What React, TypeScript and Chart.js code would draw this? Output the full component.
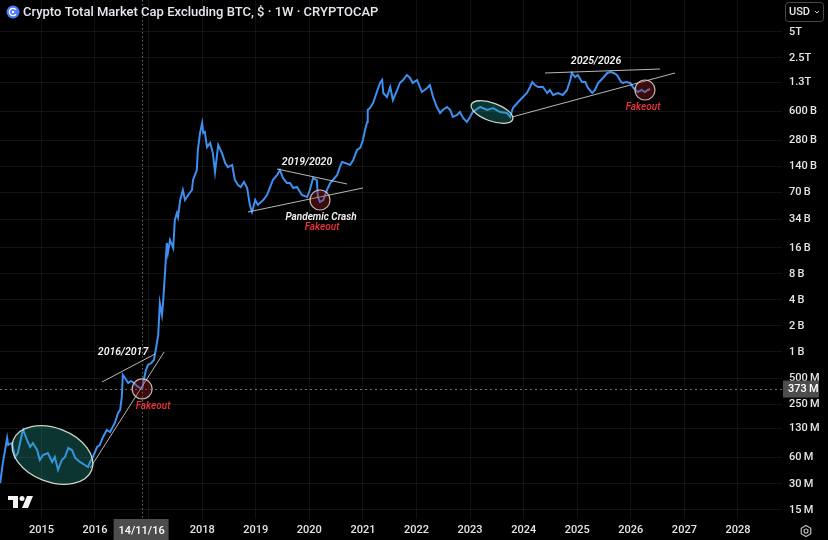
import React, { useEffect, useRef } from 'react';
import { Chart, registerables } from 'chart.js';

Chart.register(...registerables);

// ---- data (decimal year, market cap in billions USD) ----
const weekDates = [
  2014.23, 2014.28, 2014.36, 2014.38, 2014.45, 2014.51, 2014.56, 2014.64, 2014.66, 2014.73,
  2014.79, 2014.84, 2014.92, 2014.97, 2015.03, 2015.12, 2015.2, 2015.25, 2015.31, 2015.38,
  2015.44, 2015.5, 2015.57, 2015.63, 2015.72, 2015.81, 2015.87, 2015.91, 2015.96, 2016.04,
  2016.09, 2016.15, 2016.22, 2016.28, 2016.37, 2016.43, 2016.47, 2016.5, 2016.52, 2016.56,
  2016.62, 2016.67, 2016.73, 2016.78, 2016.84, 2016.88, 2016.91, 2016.95, 2016.99, 2017.05,
  2017.1, 2017.14, 2017.18, 2017.21, 2017.25, 2017.27, 2017.31, 2017.34, 2017.36, 2017.4,
  2017.46, 2017.49, 2017.53, 2017.55, 2017.59, 2017.64, 2017.68, 2017.74, 2017.81, 2017.83,
  2017.9, 2017.92, 2017.96, 2018.0, 2018.02, 2018.05, 2018.09, 2018.15, 2018.2, 2018.24,
  2018.3, 2018.37, 2018.43, 2018.48, 2018.56, 2018.61, 2018.67, 2018.72, 2018.78, 2018.84,
  2018.89, 2018.93, 2018.99, 2019.04, 2019.14, 2019.21, 2019.27, 2019.32, 2019.4, 2019.45,
  2019.51, 2019.58, 2019.64, 2019.7, 2019.77, 2019.86, 2019.96, 2020.01, 2020.07, 2020.14,
  2020.16, 2020.2, 2020.26, 2020.33, 2020.39, 2020.44, 2020.52, 2020.57, 2020.61, 2020.67,
  2020.76, 2020.82, 2020.89, 2020.95, 2021.0, 2021.04, 2021.08, 2021.09, 2021.13, 2021.19,
  2021.26, 2021.32, 2021.36, 2021.38, 2021.45, 2021.51, 2021.56, 2021.64, 2021.69, 2021.75,
  2021.82, 2021.88, 2021.93, 2022.01, 2022.1, 2022.2, 2022.25, 2022.31, 2022.38, 2022.44,
  2022.49, 2022.57, 2022.63, 2022.68, 2022.76, 2022.81, 2022.87, 2022.94, 2023.0, 2023.05,
  2023.19, 2023.32, 2023.43, 2023.56, 2023.69, 2023.75, 2023.8, 2023.88, 2023.97, 2024.06,
  2024.12, 2024.16, 2024.21, 2024.27, 2024.36, 2024.44, 2024.49, 2024.55, 2024.64, 2024.73,
  2024.81, 2024.87, 2024.9, 2024.96, 2025.01, 2025.09, 2025.15, 2025.2, 2025.28, 2025.33,
  2025.39, 2025.48, 2025.56, 2025.62, 2025.68, 2025.74, 2025.82, 2025.85, 2025.91, 2025.99,
  2026.05, 2026.13, 2026.2, 2026.26, 2026.32, 2026.36,
];

const capBillions = [
  0.0306, 0.0521, 0.1015, 0.0842, 0.0888, 0.0612, 0.068, 0.1159, 0.1255, 0.0962,
  0.0798, 0.0888, 0.0737, 0.0565, 0.0645, 0.068, 0.0536, 0.0612, 0.0433, 0.0565,
  0.0612, 0.0777, 0.0737, 0.0596, 0.0536, 0.0494, 0.0469, 0.0536, 0.0612, 0.0798,
  0.0842, 0.1042, 0.1255, 0.119, 0.151, 0.197, 0.214, 0.302, 0.542, 0.501,
  0.438, 0.462, 0.438, 0.405, 0.384, 0.373, 0.475, 0.619, 0.708, 0.746,
  0.808, 1.112, 1.572, 3.68, 2.68, 3.68, 8.86, 18.2, 13.9, 19.7,
  15.9, 33.5, 40.4, 36.3, 57.1, 74.5, 57.1, 65.2, 74.5, 97.2,
  126.8, 216, 339, 443, 339, 349, 234, 260, 199, 120,
  247, 199, 153, 137, 145, 97.2, 85.1, 80.7, 92.2, 78.6,
  50.0, 41.5, 57.1, 50.0, 57.1, 65.2, 80.7, 97.2, 111, 126.8,
  102.5, 89.8, 89.8, 78.6, 80.7, 65.2, 61.8, 74.5, 102.5, 97.2,
  61.8, 54.1, 57.1, 74.5, 89.8, 97.2, 111, 137, 157, 153,
  145, 165.5, 216, 228, 282, 368, 455, 626, 660, 754,
  1010, 1285, 1391, 984, 885, 1154, 816, 1066, 1285, 1391,
  1590, 1468, 1285, 1391, 1010, 1124, 1218, 885, 678, 578,
  626, 678, 626, 520, 548, 593, 506, 455, 520, 593,
  678, 626, 660, 593, 578, 520, 660, 754, 862, 984,
  1154, 1319, 1218, 1154, 1154, 984, 1066, 933, 984, 933,
  1066, 1391, 1676, 1506, 1590, 1319, 1319, 1124, 984, 1066,
  1285, 1468, 1676, 1721, 1676, 1590, 1319, 1285, 1319, 1285,
  1124, 1010, 1066, 1010, 1066, 1094,
];

// ---- axes ----
const yTickValues = [0.015, 0.03, 0.06, 0.13, 0.25, 0.5, 1, 2, 4, 8, 16, 34, 70, 140, 280, 600, 1300, 2500, 5000];
const yTickLabels = [
  '15\u2009M', '30\u2009M', '60\u2009M', '130\u2009M', '250\u2009M', '500\u2009M',
  '1\u2009B', '2\u2009B', '4\u2009B', '8\u2009B', '16\u2009B', '34\u2009B', '70\u2009B',
  '140\u2009B', '280\u2009B', '600\u2009B', '1.3T', '2.5T', '5T',
];
const xTickYears = [2015, 2016, 2017, 2018, 2019, 2020, 2021, 2022, 2023, 2024, 2025, 2026, 2027, 2028];
const X_MIN = 2014.227;
const X_MAX = 2028.822;
const Y_MIN = 0.01175;
const Y_MAX = 11690;

// crosshair
const crosshairDate = 2016.87;
const crosshairDateLabel = '14/11/16';
const crosshairValue = 0.373;
const crosshairValueLabel = '373\u2009M';

// ---- annotations (data coordinates) ----
const trendLineFrom = [
  [2016.13, 0.45], [2015.91, 0.0457], [2018.856, 41.5], [2019.397, 130.3], [2024.399, 1676], [2023.783, 520],
];
const trendLineTo = [
  [2017.12, 0.948], [2017.29, 1.0], [2021.002, 78.6], [2020.703, 87.4], [2026.545, 1863], [2026.825, 1676],
];
const zoneCenters = [[2015.207, 0.0645], [2023.41, 593]];
const fakeoutCenters = [[2016.88, 0.374], [2020.2, 57.1], [2026.265, 1066]];
const whiteNotes = ['2016/2017', '2019/2020', 'Pandemic Crash', '2025/2026'];
const whiteNoteAt = [[2016.523, 1.0], [2019.957, 157], [2020.218, 36.3], [2025.351, 2304]];
const redNoteAt = [[2017.083, 0.2314], [2020.237, 27.1], [2026.228, 678]];
const redNote = 'Fakeout';

const TITLE = 'Crypto Total Market Cap Excluding BTC, $ \u00b7 1W \u00b7 CRYPTOCAP';

const FONT = "Roboto, 'Noto Sans', 'DejaVu Sans', sans-serif";

const annotationPlugin = {
  id: 'tvAnnotations',
  beforeDatasetsDraw(chart: any) {
    const { ctx, chartArea, scales } = chart;
    const cx = scales.x.getPixelForValue(crosshairDate);
    const cy = scales.y.getPixelForValue(crosshairValue);
    ctx.save();
    ctx.strokeStyle = 'rgba(200,200,200,0.55)';
    ctx.lineWidth = 1;
    ctx.setLineDash([1.5, 2.5]);
    ctx.beginPath();
    ctx.moveTo(Math.round(cx) + 0.5, chartArea.top);
    ctx.lineTo(Math.round(cx) + 0.5, chartArea.bottom);
    ctx.stroke();
    ctx.setLineDash([2, 3]);
    ctx.beginPath();
    ctx.moveTo(chartArea.left, Math.round(cy) + 0.5);
    ctx.lineTo(chartArea.right, Math.round(cy) + 0.5);
    ctx.stroke();
    ctx.restore();
  },
  afterDatasetsDraw(chart: any) {
    const { ctx, chartArea, scales } = chart;
    const X = (v: number) => scales.x.getPixelForValue(v);
    const Y = (v: number) => scales.y.getPixelForValue(v);
    ctx.save();
    ctx.beginPath();
    ctx.rect(chartArea.left, chartArea.top, chartArea.right - chartArea.left, chartArea.bottom - chartArea.top);
    ctx.clip();

    // trend lines
    ctx.strokeStyle = 'rgba(215,215,215,0.85)';
    ctx.lineWidth = 1;
    trendLineFrom.forEach((a, i) => {
      const b = trendLineTo[i];
      ctx.beginPath();
      ctx.moveTo(X(a[0]), Y(a[1]));
      ctx.lineTo(X(b[0]), Y(b[1]));
      ctx.stroke();
    });

    // zone ellipses
    const zoneShape = [
      { rx: 42, ry: 27, tilt: 21 },
      { rx: 22, ry: 9, tilt: 20 },
    ];
    zoneCenters.forEach((c, i) => {
      const s = zoneShape[i];
      ctx.beginPath();
      ctx.ellipse(X(c[0]), Y(c[1]), s.rx, s.ry, (s.tilt * Math.PI) / 180, 0, Math.PI * 2);
      ctx.fillStyle = 'rgba(38,166,154,0.32)';
      ctx.fill();
      ctx.strokeStyle = 'rgba(220,235,220,0.9)';
      ctx.lineWidth = 1.3;
      ctx.stroke();
    });

    // fakeout circles
    fakeoutCenters.forEach((c) => {
      ctx.beginPath();
      ctx.arc(X(c[0]), Y(c[1]), 10, 0, Math.PI * 2);
      ctx.fillStyle = 'rgba(170,30,30,0.35)';
      ctx.fill();
      ctx.strokeStyle = 'rgba(225,215,215,0.85)';
      ctx.lineWidth = 1.2;
      ctx.stroke();
    });

    // notes
    ctx.textAlign = 'center';
    ctx.textBaseline = 'middle';
    whiteNotes.forEach((t, i) => {
      const p = whiteNoteAt[i];
      ctx.font = `italic 600 ${t === 'Pandemic Crash' ? 10 : 10.5}px ${FONT}`;
      ctx.fillStyle = '#f2f2f2';
      ctx.fillText(t, X(p[0]), Y(p[1]));
    });
    redNoteAt.forEach((p) => {
      ctx.font = `italic 500 10px ${FONT}`;
      ctx.fillStyle = '#f0323c';
      ctx.fillText(redNote, X(p[0]), Y(p[1]));
    });
    ctx.restore();
  },
  afterDraw(chart: any) {
    const { ctx, chartArea, scales, width, height } = chart;
    const cx = scales.x.getPixelForValue(crosshairDate);
    const cy = scales.y.getPixelForValue(crosshairValue);
    ctx.save();
    // value label box
    ctx.fillStyle = '#4d4d4d';
    ctx.fillRect(chartArea.right + 1, cy - 8.5, 36, 17);
    ctx.fillStyle = '#ffffff';
    ctx.font = `500 11px ${FONT}`;
    ctx.textAlign = 'left';
    ctx.textBaseline = 'middle';
    ctx.fillText(crosshairValueLabel, chartArea.right + 6, cy + 0.5);
    // date label box
    ctx.fillStyle = '#4d4d4d';
    ctx.fillRect(cx - 28, chartArea.bottom, 55, height - chartArea.bottom);
    ctx.fillStyle = '#ffffff';
    ctx.textAlign = 'center';
    ctx.fillText(crosshairDateLabel, cx, chartArea.bottom + 12);

    // title + icon
    ctx.beginPath();
    ctx.arc(13, 12, 6.5, 0, Math.PI * 2);
    ctx.fillStyle = '#4a7cf6';
    ctx.fill();
    ctx.beginPath();
    ctx.arc(13, 12, 3.6, 0.6, Math.PI * 2 - 0.6);
    ctx.strokeStyle = '#ffffff';
    ctx.lineWidth = 1.4;
    ctx.stroke();
    ctx.beginPath();
    ctx.arc(13, 12, 1.3, 0, Math.PI * 2);
    ctx.fillStyle = '#ffffff';
    ctx.fill();
    ctx.font = `500 13px ${FONT}`;
    ctx.fillStyle = '#e6e8ee';
    ctx.textAlign = 'left';
    ctx.textBaseline = 'middle';
    ctx.fillText(TITLE, 23, 12.5);

    // USD box
    const bx = chartArea.right + 3;
    ctx.strokeStyle = '#4a4a4a';
    ctx.lineWidth = 1;
    ctx.beginPath();
    (ctx as any).roundRect ? (ctx as any).roundRect(bx + 0.5, 2.5, 38, 19, 3) : ctx.rect(bx + 0.5, 2.5, 38, 19);
    ctx.stroke();
    ctx.fillStyle = '#e6e8ee';
    ctx.font = `500 11px ${FONT}`;
    ctx.fillText('USD', bx + 4, 12.5);
    ctx.beginPath();
    ctx.moveTo(bx + 30, 11);
    ctx.lineTo(bx + 32, 13);
    ctx.lineTo(bx + 34, 11);
    ctx.strokeStyle = '#cccccc';
    ctx.stroke();

    // gear icon
    const gx = width - 22, gy = height - 9;
    ctx.beginPath();
    for (let k = 0; k < 6; k++) {
      const a = (Math.PI / 3) * k + Math.PI / 6;
      const x = gx + 5.5 * Math.cos(a), y = gy + 5.5 * Math.sin(a);
      if (k === 0) ctx.moveTo(x, y); else ctx.lineTo(x, y);
    }
    ctx.closePath();
    ctx.strokeStyle = '#bbbbbb';
    ctx.lineWidth = 1.2;
    ctx.stroke();
    ctx.beginPath();
    ctx.arc(gx, gy, 2, 0, Math.PI * 2);
    ctx.stroke();

    // TradingView logo
    const lx = 8, ly = 496;
    ctx.fillStyle = '#f5f5f5';
    ctx.fillRect(lx, ly, 10, 4);
    ctx.fillRect(lx + 5, ly, 5, 12);
    ctx.beginPath();
    ctx.arc(lx + 14, ly + 2.5, 2.5, 0, Math.PI * 2);
    ctx.fill();
    ctx.beginPath();
    ctx.moveTo(lx + 19, ly);
    ctx.lineTo(lx + 25, ly);
    ctx.lineTo(lx + 20, ly + 12);
    ctx.lineTo(lx + 14, ly + 12);
    ctx.closePath();
    ctx.fill();
    ctx.restore();
  },
};

export default function App() {
  const canvasRef = useRef<HTMLCanvasElement | null>(null);

  useEffect(() => {
    document.body.style.margin = '0';
    document.body.style.background = '#000';
    const canvas = canvasRef.current;
    if (!canvas) return;
    const points = weekDates.map((d, i) => ({ x: d, y: capBillions[i] }));
    const chart = new Chart(canvas, {
      type: 'line',
      data: {
        datasets: [
          {
            data: points,
            borderColor: '#3d8ff0',
            borderWidth: 2,
            pointRadius: 0,
            tension: 0,
            fill: false,
          },
        ],
      },
      options: {
        animation: false,
        responsive: false,
        devicePixelRatio: 1,
        layout: { padding: 0 },
        plugins: {
          legend: { display: false },
          tooltip: { enabled: false },
          title: { display: false },
        },
        scales: {
          x: {
            type: 'linear',
            position: 'bottom',
            min: X_MIN,
            max: X_MAX,
            bounds: 'data',
            afterFit: (s: any) => {
              s.height = 21;
              s.paddingLeft = 0;
              s.paddingRight = 0;
            },
            afterBuildTicks: (s: any) => {
              s.ticks = xTickYears.map((v) => ({ value: v }));
            },
            ticks: {
              autoSkip: false,
              maxRotation: 0,
              padding: 5,
              color: '#e3e5ea',
              font: { family: FONT, size: 11, weight: 500 },
              callback: (v: any) => (v === 2017 ? '' : String(v)),
            },
            grid: { color: 'rgba(255,255,255,0.07)', drawTicks: false, lineWidth: 1 },
            border: { display: false },
          },
          y: {
            type: 'logarithmic',
            position: 'right',
            min: Y_MIN,
            max: Y_MAX,
            bounds: 'data',
            afterFit: (s: any) => {
              s.width = 46;
              s.paddingTop = 0;
              s.paddingBottom = 0;
            },
            afterBuildTicks: (s: any) => {
              s.ticks = yTickValues.map((v) => ({ value: v }));
            },
            ticks: {
              autoSkip: false,
              padding: 7,
              color: '#e3e5ea',
              font: { family: FONT, size: 11, weight: 500 },
              callback: (_v: any, i: number) => yTickLabels[i] ?? '',
            },
            grid: { color: 'rgba(255,255,255,0.07)', drawTicks: false, lineWidth: 1 },
            border: { display: false },
          },
        },
      } as any,
      plugins: [annotationPlugin],
    });
    return () => chart.destroy();
  }, []);

  return (
    <div style={{ position: 'absolute', left: 0, top: 0, width: 828, height: 540, background: '#000' }}>
      <canvas ref={canvasRef} width={828} height={540} style={{ display: 'block', width: 828, height: 540 }} />
    </div>
  );
}
